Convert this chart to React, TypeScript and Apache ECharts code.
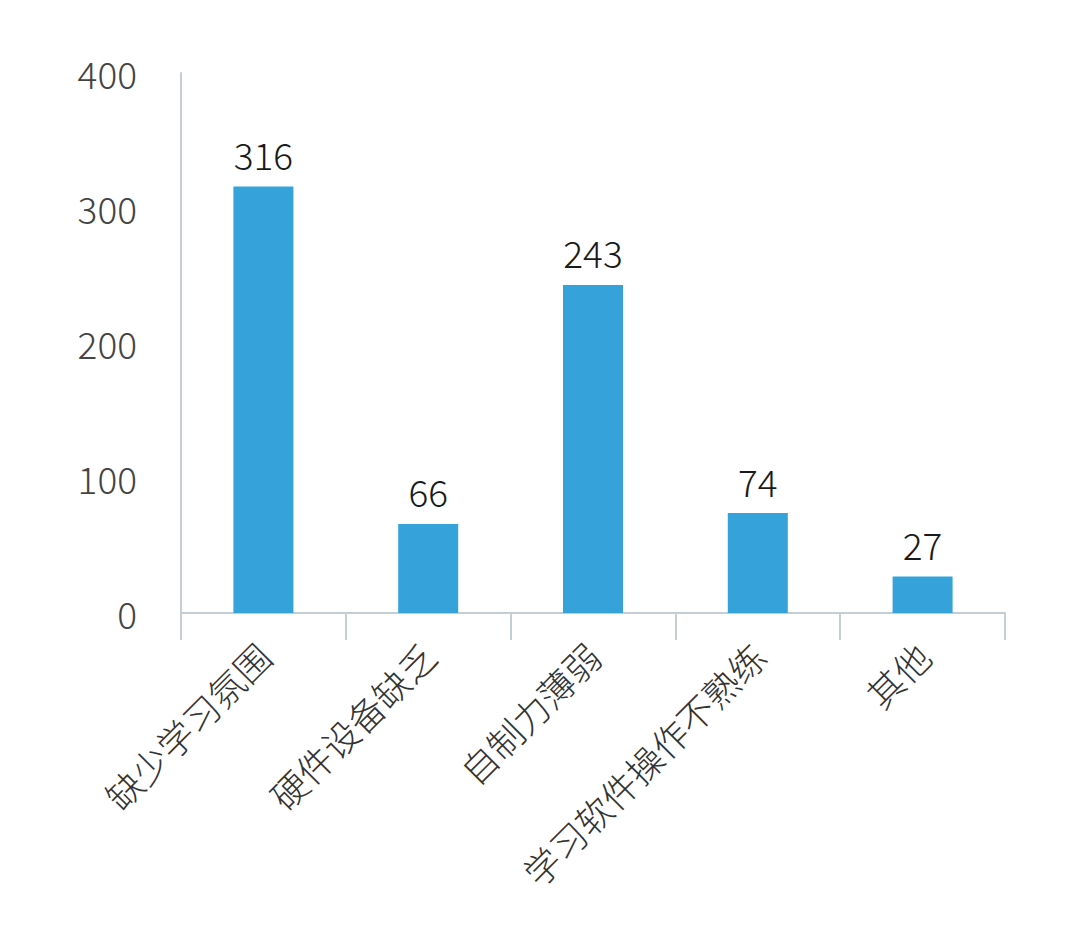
import React, { useEffect, useRef } from "react";
import * as echarts from "echarts";

const categories = ["缺少学习氛围", "硬件设备缺乏", "自制力薄弱", "学习软件操作不熟练", "其他"];
const values = [316, 66, 243, 74, 27];
const yMin = 0;
const yMax = 400;
const yInterval = 100;

const FONT = "'Noto Sans CJK SC', 'Noto Sans', sans-serif";

export default function App() {
  const ref = useRef<HTMLDivElement>(null);
  useEffect(() => {
    document.body.style.margin = "0";
    const chart = echarts.init(ref.current!, null, { renderer: "svg" });
    chart.setOption({
      animation: false,
      backgroundColor: "#ffffff",
      grid: { left: 181, right: 75, top: 73, bottom: 339, containLabel: false },
      xAxis: {
        type: "category",
        data: categories,
        boundaryGap: true,
        axisLine: { show: true, lineStyle: { color: "#c5cdd5", width: 2 } },
        axisTick: { show: true, length: 27, lineStyle: { color: "#c5cdd5", width: 2 } },
        axisLabel: {
          rotate: 45,
          margin: 36,
          interval: 0,
          fontSize: 36,
          fontWeight: 300,
          color: "#333333",
          fontFamily: FONT,
        },
      },
      yAxis: {
        type: "value",
        min: yMin,
        max: yMax,
        interval: yInterval,
        splitLine: { show: false },
        axisLine: { show: true, lineStyle: { color: "#c5cdd5", width: 2 } },
        axisTick: { show: false },
        axisLabel: {
          margin: 44,
          fontSize: 37,
          fontWeight: 300,
          color: "#444444",
          fontFamily: FONT,
        },
      },
      series: [
        {
          type: "bar",
          data: values,
          barWidth: 60,
          itemStyle: { color: "#35a3da" },
          label: {
            show: true,
            position: "top",
            distance: 14,
            fontSize: 37,
            fontWeight: 300,
            color: "#1a1a1a",
            fontFamily: FONT,
          },
        },
      ],
    });
    return () => chart.dispose();
  }, []);
  return <div ref={ref} style={{ width: 1080, height: 952 }} />;
}
